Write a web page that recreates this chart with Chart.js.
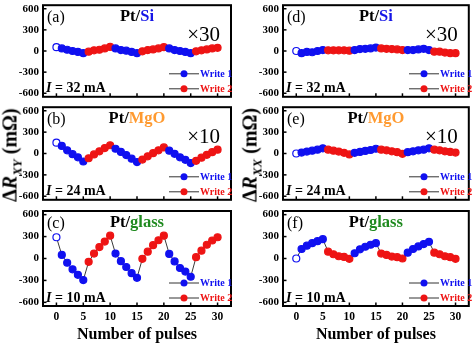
<!DOCTYPE html>
<html>
<head>
<meta charset="utf-8">
<script src="https://cdn.jsdelivr.net/npm/chart.js@4.4.0/dist/chart.umd.min.js"></script>
<style>
  body { margin: 0; background: #fff; width: 474px; height: 343px; overflow: hidden; position: relative; font-family: 'Liberation Serif', serif; }
  canvas { position: absolute; }
  .ytitle { position: absolute; font-weight: bold; font-size: 20px; white-space: nowrap; transform: translate(-50%, -50%) rotate(-90deg); }
  .ytitle sub { font-size: 13px; font-style: italic; }
</style>
</head>
<body>
<canvas id="pa" width="237" height="102" style="left:0;top:0"></canvas>
<canvas id="pb" width="237" height="103" style="left:0;top:102px"></canvas>
<canvas id="pc" width="237" height="138" style="left:0;top:205px"></canvas>
<canvas id="pd" width="234" height="102" style="left:240px;top:0"></canvas>
<canvas id="pe" width="234" height="103" style="left:240px;top:102px"></canvas>
<canvas id="pf" width="234" height="138" style="left:240px;top:205px"></canvas>
<div class="ytitle" style="left:12px;top:155px">Δ<i>R</i><sub>XY</sub> (mΩ)</div>
<div class="ytitle" style="left:252px;top:155px">Δ<i>R</i><sub>XX</sub> (mΩ)</div>
<script>
const pulses = [0,1,2,3,4,5,6,7,8,9,10,11,12,13,14,15,16,17,18,19,20,21,22,23,24,25,26,27,28,29,30];
const xTicks = [0,5,10,15,20,25,30];
const yTicks = [-600,-300,0,300,600];

// delta R_XY (mOhm), scaled
const xyPtSi    = [54,36,18,0,-13,-31,-9,9,18,36,58,36,13,4,-13,-31,-4,13,22,36,54,36,13,0,-13,-31,-4,9,22,36,45];
const xyPtMgO   = [152,107,45,-9,-54,-112,-67,-13,31,76,116,67,22,-22,-72,-121,-85,-40,4,45,85,40,-4,-54,-89,-134,-103,-58,-18,18,54];
const xyPtGlass = [291,49,-58,-148,-224,-295,-45,67,156,232,313,67,-36,-116,-201,-264,-4,94,183,250,313,63,-40,-130,-179,-250,18,107,188,246,291];
// delta R_XX (mOhm), scaled
const xxPtSi    = [0,-31,-13,-18,0,13,9,9,9,9,4,13,27,31,36,49,36,31,27,22,13,13,13,22,31,13,-9,-9,-22,-31,-31];
const xxPtMgO   = [0,13,27,40,54,72,54,40,27,9,-13,9,22,36,49,67,54,45,31,18,-4,18,31,45,54,72,54,45,31,22,13];
const xxPtGlass = [0,130,175,210,237,264,94,58,31,22,-4,72,125,161,188,210,67,49,27,18,0,80,130,165,197,228,80,58,31,18,-4];

const panelLabels = ['(a)','(b)','(c)','(d)','(e)','(f)'];
const substrates = ['Si','MgO','glass'];
const substrateColors = ['#1515e6','#ff9a30','#1f8a1f'];
const multipliers = ['×30','×10',''];
const currents = ['32','24','10'];
const legendLabels = ['Write 1','Write 2'];

const BLUE = '#1010f0';
const RED = '#ee1414';

function pointColor(i, fill) {
  if (i === 0) return fill ? '#fff' : BLUE;
  return Math.floor((i - 1) / 5) % 2 === 0 ? BLUE : RED;
}

const panelPlugin = {
  id: 'panel',
  afterDatasetsDraw(chart, args, o) {
    const { ctx, chartArea: a, scales: { x, y } } = chart;
    ctx.save();
    ctx.strokeStyle = '#000';
    ctx.lineWidth = 1.5;
    yTicks.forEach(v => {
      const py = y.getPixelForValue(v);
      ctx.beginPath(); ctx.moveTo(a.left, py); ctx.lineTo(a.left + 3.5, py); ctx.stroke();
    });
    xTicks.forEach(v => {
      const px = x.getPixelForValue(v);
      ctx.beginPath(); ctx.moveTo(px, a.bottom); ctx.lineTo(px, a.bottom - 3.5); ctx.stroke();
    });
    ctx.lineWidth = 2;
    ctx.strokeRect(a.left, a.top, a.right - a.left, a.bottom - a.top);

    ctx.textBaseline = 'middle';
    ctx.fillStyle = '#000';
    // panel letter
    ctx.font = '16px "Liberation Serif"';
    ctx.textAlign = 'left';
    ctx.fillText(o.label, a.left + 4, a.top + 13);
    // title Pt/xxx
    ctx.font = 'bold 16.5px "Liberation Serif"';
    const w1 = ctx.measureText('Pt/').width;
    const w2 = ctx.measureText(o.sub).width;
    const cx = (a.left + a.right) / 2 - (w1 + w2) / 2;
    ctx.fillText('Pt/', cx, a.top + 12);
    ctx.fillStyle = o.subColor;
    ctx.fillText(o.sub, cx + w1, a.top + 12);
    // multiplier
    if (o.mult) {
      ctx.fillStyle = '#000';
      ctx.font = '21px "Liberation Serif"';
      ctx.textAlign = 'right';
      ctx.fillText(o.mult, a.right - 11, a.top + 30);
    }
    // current
    ctx.fillStyle = '#000';
    ctx.textAlign = 'left';
    ctx.font = 'italic bold 14px "Liberation Serif"';
    ctx.fillText('I', a.left + 3, a.bottom - 8);
    const wi = ctx.measureText('I').width;
    ctx.font = 'bold 14px "Liberation Serif"';
    ctx.fillText(' = ' + o.current + ' mA', a.left + 3 + wi, a.bottom - 8);
    // legend
    [BLUE, RED].forEach((c, k) => {
      const ly = a.bottom - 23 + k * 15;
      ctx.strokeStyle = '#333';
      ctx.lineWidth = 1;
      ctx.beginPath(); ctx.moveTo(a.left + 126, ly); ctx.lineTo(a.left + 156, ly); ctx.stroke();
      ctx.fillStyle = c;
      ctx.beginPath(); ctx.arc(a.left + 141, ly, 3.5, 0, Math.PI * 2); ctx.fill();
      ctx.font = 'bold 10px "Liberation Serif"';
      ctx.fillText(legendLabels[k], a.left + 157, ly + 0.5);
    });
    ctx.restore();
  }
};

function noPad(s) {
  s.paddingTop = 0; s.paddingBottom = 0; s.paddingLeft = 0; s.paddingRight = 0;
}

function makePanel(id, values, idx, row, rightCol) {
  const pads = [{ top: 2, bottom: 5 }, { top: 5, bottom: 3 }, { top: 6, bottom: 0 }][row];
  const bottomRow = row === 2;
  new Chart(document.getElementById(id), {
    type: 'line',
    data: {
      datasets: [{
        data: pulses.map((p, i) => ({ x: p, y: values[i] })),
        borderColor: '#3a3a3a',
        borderWidth: 1,
        tension: 0,
        pointRadius: 3.5,
        pointBorderWidth: 1.2,
        pointBackgroundColor: c => pointColor(c.dataIndex, true),
        pointBorderColor: c => pointColor(c.dataIndex, false)
      }]
    },
    options: {
      responsive: false,
      animation: false,
      layout: { padding: { left: 0, right: rightCol ? 3 : 6, top: pads.top, bottom: pads.bottom } },
      plugins: {
        legend: { display: false },
        tooltip: { enabled: false },
        panel: {
          label: panelLabels[idx],
          sub: substrates[row],
          subColor: substrateColors[row],
          mult: multipliers[row],
          current: currents[row]
        }
      },
      scales: {
        x: {
          type: 'linear',
          min: -2.5,
          max: 32.5,
          display: bottomRow,
          afterBuildTicks: s => { s.ticks = xTicks.map(v => ({ value: v })); },
          afterFit: s => { noPad(s); if (bottomRow) s.height = 37; },
          grid: { display: false, drawTicks: false },
          border: { display: false },
          ticks: { padding: 4, color: '#000', font: { family: 'Liberation Serif', weight: 'bold', size: 11.5 } },
          title: { display: true, text: 'Number of pulses', color: '#000', padding: 0,
                   font: { family: 'Liberation Serif', weight: 'bold', size: 16, lineHeight: 1 } }
        },
        y: {
          min: -650,
          max: 650,
          afterBuildTicks: s => { s.ticks = yTicks.map(v => ({ value: v })); },
          afterFit: s => { noPad(s); s.width = 43; },
          grid: { display: false, drawTicks: false },
          border: { display: false },
          ticks: { padding: 4, color: '#000', font: { family: 'Liberation Serif', weight: 'bold', size: 11 } }
        }
      }
    },
    plugins: [panelPlugin]
  });
}

makePanel('pa', xyPtSi, 0, 0, false);
makePanel('pb', xyPtMgO, 1, 1, false);
makePanel('pc', xyPtGlass, 2, 2, false);
makePanel('pd', xxPtSi, 3, 0, true);
makePanel('pe', xxPtMgO, 4, 1, true);
makePanel('pf', xxPtGlass, 5, 2, true);
</script>
</body>
</html>
